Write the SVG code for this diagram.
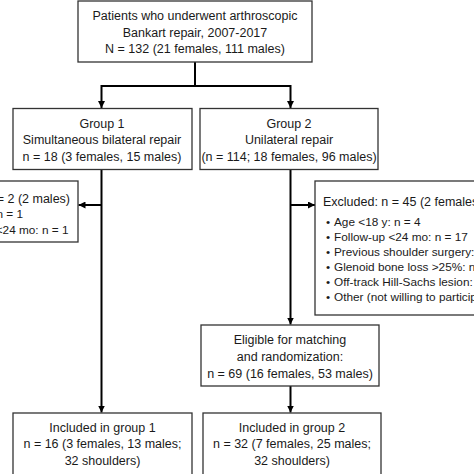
<svg xmlns="http://www.w3.org/2000/svg" width="474" height="474" viewBox="0 0 474 474">
<defs>
<style>
.box{fill:#fff;stroke:#333;stroke-width:1.3}
.t{font-family:"Liberation Sans",Arial,sans-serif;font-size:12.5px;fill:#1a1a1a;text-anchor:middle}
.b{font-family:"Liberation Sans",Arial,sans-serif;font-size:11.8px;fill:#1a1a1a}
.c{fill:none;stroke:#000;stroke-width:2}
</style>
<marker id="ah" viewBox="0 0 10 10" refX="10" refY="5" markerWidth="7" markerHeight="7" markerUnits="userSpaceOnUse" orient="auto">
<path d="M0,0 L10,5 L0,10 Z" fill="#000"/>
</marker>
</defs>
<rect width="474" height="474" fill="#fff"/>
<g id="connectors">
<path class="c" d="M195,62 V86"/>
<path class="c" d="M101.5,86 H290.5"/>
<path class="c" d="M101.5,85 V108" marker-end="url(#ah)"/>
<path class="c" d="M290.5,85 V108" marker-end="url(#ah)"/>
<path class="c" d="M101.5,169.5 V412.5" marker-end="url(#ah)"/>
<path class="c" d="M101.5,205 H78.5" marker-end="url(#ah)"/>
<path class="c" d="M290.5,169.5 V324.5" marker-end="url(#ah)"/>
<path class="c" d="M290.5,205 H315" marker-end="url(#ah)"/>
<path class="c" d="M290.5,386 V412.5" marker-end="url(#ah)"/>
</g>
<g id="top">
<rect class="box" x="78" y="1" width="234" height="61"/>
<text class="t" x="195" y="20">Patients who underwent arthroscopic</text>
<text class="t" x="195" y="36.5">Bankart repair, 2007-2017</text>
<text class="t" x="195" y="53">N = 132 (21 females, 111 males)</text>
</g>
<g id="group1">
<rect class="box" x="13" y="108.5" width="179" height="61"/>
<text class="t" x="102" y="127.5">Group 1</text>
<text class="t" x="102" y="144">Simultaneous bilateral repair</text>
<text class="t" x="102" y="160.5">n = 18 (3 females, 15 males)</text>
</g>
<g id="group2">
<rect class="box" x="200" y="108.5" width="178" height="61"/>
<text class="t" x="289" y="127.5">Group 2</text>
<text class="t" x="289" y="144">Unilateral repair</text>
<text class="t" x="289" y="160.5">(n = 114; 18 females, 96 males)</text>
</g>
<g id="excluded1">
<rect class="box" x="-5" y="181" width="83" height="61"/>
<text class="t" x="70" y="202.5" style="text-anchor:end">= 2 (2 males)</text>
<text class="b" x="23" y="218" style="text-anchor:end">n = 1</text>
<text class="b" x="68.5" y="234" style="text-anchor:end">&lt;24 mo: n = 1</text>
</g>
<g id="excluded2">
<rect class="box" x="315" y="181" width="170" height="134"/>
<text class="t" x="323" y="206" style="text-anchor:start">Excluded: n = 45 (2 females, 43 males)</text>
<text class="b" x="326" y="226">•</text><text class="b" x="334" y="226">Age &lt;18 y: n = 4</text>
<text class="b" x="326" y="240.5">•</text><text class="b" x="334" y="240.5">Follow-up &lt;24 mo: n = 17</text>
<text class="b" x="326" y="255.5">•</text><text class="b" x="334" y="255.5">Previous shoulder surgery: n</text>
<text class="b" x="326" y="270.5">•</text><text class="b" x="334" y="270.5">Glenoid bone loss &gt;25%: n</text>
<text class="b" x="326" y="285.5">•</text><text class="b" x="334" y="285.5">Off-track Hill-Sachs lesion: n</text>
<text class="b" x="326" y="300.5">•</text><text class="b" x="334" y="300.5">Other (not willing to participate)</text>
</g>
<g id="eligible">
<rect class="box" x="201" y="325" width="178" height="61"/>
<text class="t" x="290" y="343.5">Eligible for matching</text>
<text class="t" x="290" y="360.5">and randomization:</text>
<text class="t" x="290" y="377.5">n = 69 (16 females, 53 males)</text>
</g>
<g id="included1">
<rect class="box" x="13" y="413" width="179" height="70"/>
<text class="t" x="102.5" y="431.5">Included in group 1</text>
<text class="t" x="102.5" y="448">n = 16 (3 females, 13 males;</text>
<text class="t" x="102.5" y="464.5">32 shoulders)</text>
</g>
<g id="included2">
<rect class="box" x="203" y="413" width="178" height="70"/>
<text class="t" x="292" y="431.5">Included in group 2</text>
<text class="t" x="292" y="448">n = 32 (7 females, 25 males;</text>
<text class="t" x="292" y="464.5">32 shoulders)</text>
</g>
</svg>
